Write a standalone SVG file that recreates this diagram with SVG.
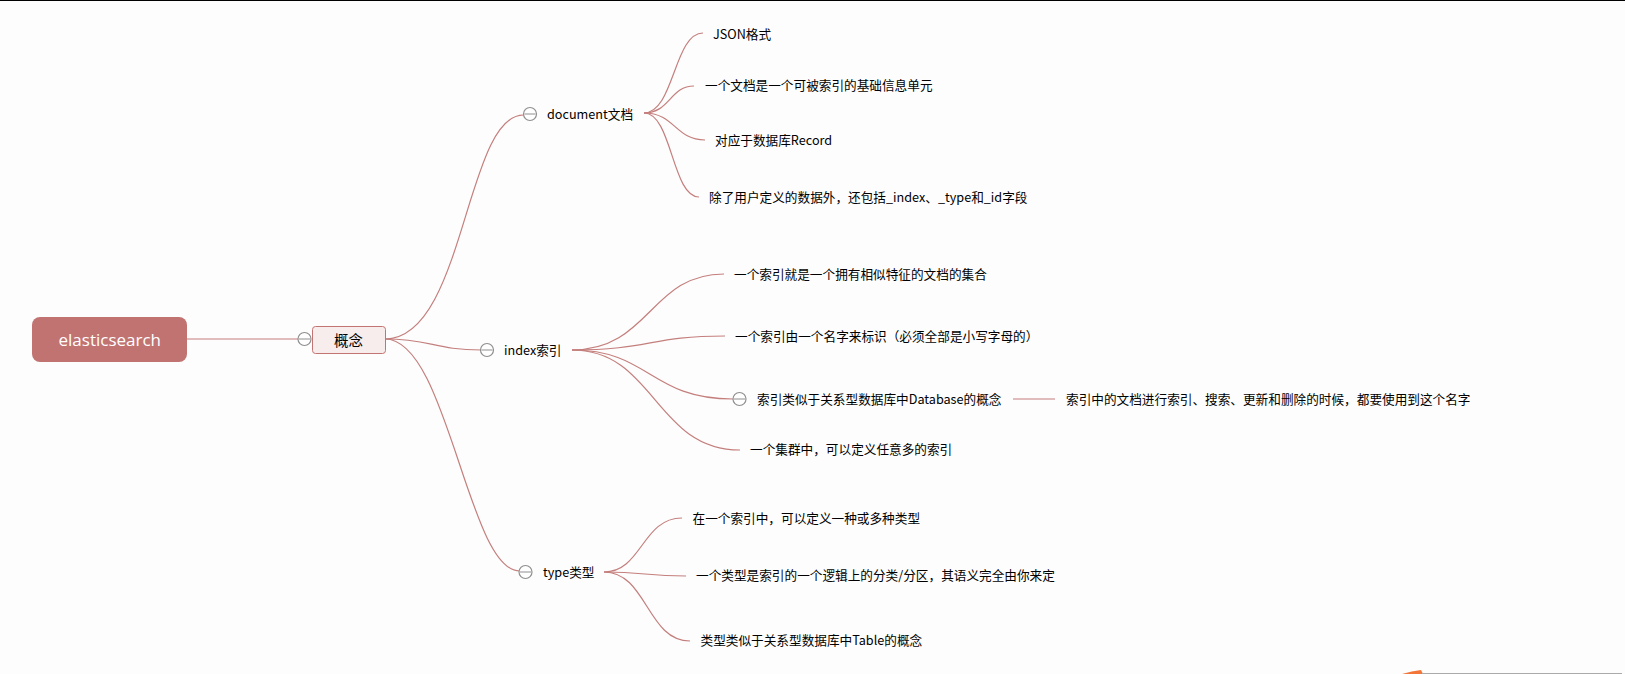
<svg xmlns="http://www.w3.org/2000/svg" width="1625" height="674" viewBox="0 0 1625 674">
<style>
text{font-family:"Noto Sans CJK SC","Noto Sans",sans-serif;font-size:12.65px;fill:#000}
.c path,.c line{fill:none;stroke:#c47f7d;stroke-width:1.2}
.t circle{fill:#fff;stroke:#8f8f8f;stroke-width:1.2}
.t line{stroke:#8f8f8f;stroke-width:1}
</style>
<rect width="1625" height="674" fill="#fdfdfd"/>
<rect x="0" y="0" width="1625" height="1" fill="#000"/>
<path d="M1402 674Q1412 671 1421 670L1423 674Z" fill="#f47538"/>
<rect x="1422" y="673" width="200" height="1" fill="#aaa"/>
<g class="c" id="connectors">
<line x1="187" y1="339" x2="298" y2="339"/>
<path d="M385 339C465 339 465 114 524 115"/>
<path d="M385 339C430 339 435 350 481 350"/>
<path d="M385 339C448 339 468 572 520 571"/>
<path d="M644 113C674 113 674 33 703 33"/>
<path d="M644 113C670 113 670 86 694 86"/>
<path d="M644 113C675 113 675 140 705 140"/>
<path d="M644 113C672 113 672 197 699 197"/>
<path d="M572 350C650 350 650 274 724 274"/>
<path d="M572 350C650 350 650 336 725 336"/>
<path d="M572 350C650 350 650 399 733 399"/>
<path d="M572 350C655 350 655 450 740 450"/>
<line x1="1013" y1="399" x2="1055" y2="399"/>
<path d="M604 572C642 572 642 518 682 518"/>
<path d="M604 572C645 572 645 576 686 576"/>
<path d="M604 572C647 572 647 641 690 641"/>
</g>
<g id="root"><rect x="32" y="317" width="155" height="45" rx="8" fill="#c17371"/><text x="58.500" y="346" style="font-size:17px;fill:#fff;font-family:'Open Sans','Noto Sans',sans-serif">elasticsearch</text></g>
<g id="concept"><g class="t"><circle cx="304.500" cy="339" r="6.500"/><line x1="299" y1="339" x2="310" y2="339"/></g><rect x="312.500" y="326.500" width="73" height="27" rx="3" fill="#f7eded" stroke="#c27472"/><text x="334" y="346" style="font-size:14.500px">概念</text></g>
<g id="document"><g class="t"><circle cx="530" cy="114" r="6.500"/><line x1="524.500" y1="114" x2="535.500" y2="114"/></g><text x="547" y="119">document文档</text></g>
<g id="index"><g class="t"><circle cx="487" cy="350" r="6.500"/><line x1="481.500" y1="350" x2="492.500" y2="350"/></g><text x="504" y="355">index索引</text></g>
<g id="type"><g class="t"><circle cx="525.500" cy="572" r="6.500"/><line x1="520" y1="572" x2="531" y2="572"/></g><text x="543" y="577">type类型</text></g>
<g id="doc1"><text x="713" y="39">JSON格式</text></g>
<g id="doc2"><text x="705" y="90">一个文档是一个可被索引的基础信息单元</text></g>
<g id="doc3"><text x="715" y="145">对应于数据库Record</text></g>
<g id="doc4"><text x="709" y="202">除了用户定义的数据外，还包括_index、_type和_id字段</text></g>
<g id="idx1"><text x="734" y="279">一个索引就是一个拥有相似特征的文档的集合</text></g>
<g id="idx2"><text x="735" y="341">一个索引由一个名字来标识（必须全部是小写字母的）</text></g>
<g id="idx3"><g class="t"><circle cx="739.500" cy="399" r="6.500"/><line x1="734" y1="399" x2="745" y2="399"/></g><text x="757" y="404">索引类似于关系型数据库中Database的概念</text></g>
<g id="idx3a"><text x="1066" y="404">索引中的文档进行索引、搜索、更新和删除的时候，都要使用到这个名字</text></g>
<g id="idx4"><text x="750" y="454">一个集群中，可以定义任意多的索引</text></g>
<g id="type1"><text x="692.500" y="523">在一个索引中，可以定义一种或多种类型</text></g>
<g id="type2"><text x="696" y="580">一个类型是索引的一个逻辑上的分类/分区，其语义完全由你来定</text></g>
<g id="type3"><text x="700.500" y="645">类型类似于关系型数据库中Table的概念</text></g>
</svg>
